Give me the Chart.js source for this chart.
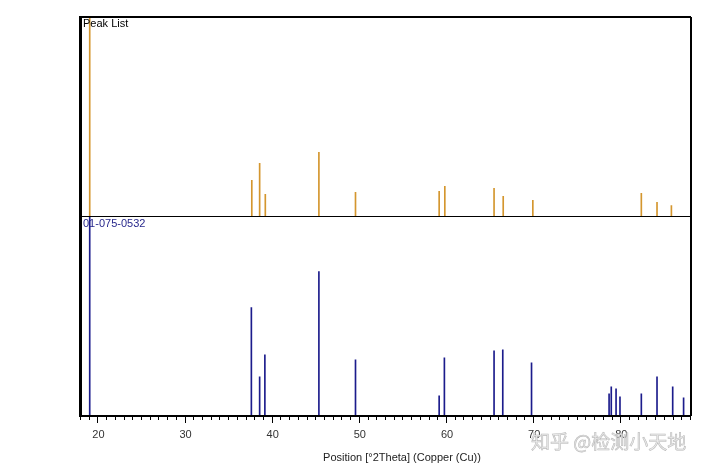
<!DOCTYPE html>
<html>
<head>
<meta charset="utf-8">
<script src="https://cdn.jsdelivr.net/npm/chart.js@4"></script>
<style>
  html, body { margin: 0; padding: 0; background: #fff; }
  canvas { display: block; }
</style>
</head>
<body>
<canvas id="xrdChart" width="708" height="473"></canvas>
<script>
// === Peak positions (°2Theta) and relative intensities ===
const peakListPositions = [19.0, 37.6, 38.5, 39.15, 45.3, 49.5, 59.1, 59.75, 65.4, 66.45, 69.85, 82.3, 84.1, 85.75];
const peakListHeights = [100, 18.1, 26.6, 11.1, 32.2, 12.1, 12.6, 15.1, 14.1, 10.1, 8.1, 11.6, 7.1, 5.5];

const refPositions = [19.0, 37.55, 38.5, 39.1, 45.3, 49.5, 59.1, 59.7, 65.4, 66.4, 69.7, 78.6, 78.85, 79.4, 79.85, 82.3, 84.1, 85.9, 87.15];
const refHeights = [100, 54.3, 19.6, 30.7, 72.4, 28.1, 10.1, 29.1, 32.7, 33.2, 26.6, 11.1, 14.6, 13.6, 9.6, 11.1, 19.6, 14.6, 9.1];

const xMin = 18;
const xMax = 88;
const labelEvery = 10;

const peakListName = "Peak List";
const refName = "01-075-0532";
const xTitle = "Position [°2Theta] (Copper (Cu))";
const watermark = "知乎 @检测小天地";

const toPoints = (xs, ys) => xs.map((x, i) => ({ x: x, y: ys[i] }));

// Frame, axis ticks, panel labels, axis title and the watermark
const framePlugin = {
  id: "frame",
  afterDraw(chart) {
    const { ctx, chartArea: a, scales } = chart;
    const split = Math.floor(scales.yTop.bottom) + 0.5;
    ctx.save();
    ctx.strokeStyle = "#000";

    // ticks below the axis
    ctx.lineWidth = 1;
    scales.x.ticks.forEach((t) => {
      const px = Math.round(scales.x.getPixelForValue(t.value)) - 0.5;
      const len = t.value % labelEvery === 0 ? 7 : 4;
      ctx.beginPath();
      ctx.moveTo(px, a.bottom);
      ctx.lineTo(px, a.bottom + len);
      ctx.stroke();
    });

    // middle line
    ctx.beginPath();
    ctx.moveTo(a.left, split);
    ctx.lineTo(a.right, split);
    ctx.stroke();

    // frame
    ctx.lineWidth = 2;
    ctx.beginPath();
    ctx.moveTo(a.left, a.top);
    ctx.lineTo(a.right, a.top);
    ctx.moveTo(a.left, a.bottom);
    ctx.lineTo(a.right, a.bottom);
    ctx.moveTo(a.right, a.top);
    ctx.lineTo(a.right, a.bottom);
    ctx.stroke();
    ctx.lineWidth = 3;
    ctx.beginPath();
    ctx.moveTo(a.left - 0.5, a.top - 1);
    ctx.lineTo(a.left - 0.5, a.bottom + 1);
    ctx.stroke();

    // panel labels
    ctx.textBaseline = "middle";
    ctx.font = "11px 'Liberation Sans'";
    ctx.fillStyle = "#000";
    ctx.fillText(peakListName, 83, 23.5);
    ctx.fillStyle = "#28288c";
    ctx.fillText(refName, 83, 223.5);

    // axis title
    ctx.fillStyle = "#222";
    ctx.textAlign = "center";
    ctx.fillText(xTitle, 402, 458);
    ctx.textAlign = "left";

    // watermark
    ctx.font = "19px 'Noto Sans CJK SC'";
    ctx.fillStyle = "#ececec";
    ctx.strokeStyle = "#bcbcbc";
    ctx.lineWidth = 0.6;
    ctx.fillText(watermark, 531, 442);
    ctx.strokeText(watermark, 531, 442);
    ctx.restore();
  },
};

new Chart(document.getElementById("xrdChart"), {
  type: "bar",
  data: {
    datasets: [
      {
        label: peakListName,
        data: toPoints(peakListPositions, peakListHeights),
        yAxisID: "yTop",
        backgroundColor: "#d4962e",
        barThickness: 1,
        grouped: false,
      },
      {
        label: refName,
        data: toPoints(refPositions, refHeights),
        yAxisID: "yBottom",
        backgroundColor: "#1c1c8c",
        barThickness: 1,
        grouped: false,
      },
    ],
  },
  options: {
    responsive: false,
    animation: false,
    layout: { padding: { left: 81, right: 17, top: 17, bottom: 0 } },
    plugins: { legend: { display: false }, tooltip: { enabled: false } },
    scales: {
      x: {
        type: "linear",
        offset: false,
        min: xMin,
        max: xMax,
        grid: { display: false, drawTicks: false },
        border: { display: false },
        ticks: {
          stepSize: 1,
          autoSkip: false,
          maxRotation: 0,
          includeBounds: false,
          padding: 12,
          color: "#333",
          font: { family: "'Liberation Sans'", size: 11 },
          callback: (v) => (v % labelEvery === 0 ? v : ""),
        },
        afterFit: (scale) => { scale.height = 57; },
      },
      // stacked panels: the last one listed ends up on top
      yBottom: {
        position: "left",
        stack: "panels",
        stackWeight: 1,
        min: 0,
        max: 100,
        grid: { display: false, drawTicks: false },
        border: { display: false },
        ticks: { display: false },
      },
      yTop: {
        position: "left",
        stack: "panels",
        stackWeight: 1,
        min: 0,
        max: 100,
        grid: { display: false, drawTicks: false },
        border: { display: false },
        ticks: { display: false },
      },
    },
  },
  plugins: [framePlugin],
});
</script>
</body>
</html>
